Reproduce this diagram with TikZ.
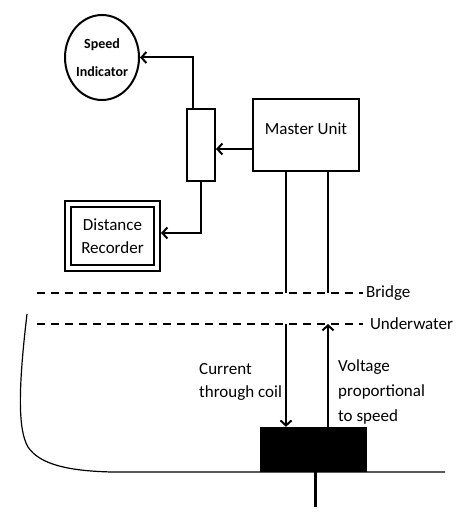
\documentclass[tikz,border=0pt]{standalone}
\usepackage{fontspec}
\setmainfont{Carlito}
\usetikzlibrary{shapes.geometric,arrows.meta}

\begin{document}
\begin{tikzpicture}[x=1pt,y=-1pt,
	txt/.style={font=\fontsize{17}{23}\selectfont,inner sep=0pt,align=left},
	box/.style={draw,line width=2pt,inner sep=0pt,font=\fontsize{17}{23}\selectfont,align=center},
	wire/.style={line width=2pt},
	arr/.style={wire,-{Straight Barb[length=5pt,width=11pt,line width=2pt]}},
	level/.style={line width=2pt,dash pattern=on 8pt off 6pt}]
	\useasboundingbox (0,0) rectangle (456,516);
	% blocks above the deck
	\node[box,ellipse,minimum width=74pt,minimum height=85pt,
		font=\bfseries\fontsize{14}{28}\selectfont] (ind) at (102,57.5) {Speed\\Indicator};
	\node[box,minimum width=28pt,minimum height=72pt] (sw) at (201,145) {};
	\node[box,minimum width=106pt,minimum height=72pt,
		label={[txt,yshift=6pt]center:Master Unit}] (mu) at (306,135) {};
	\node[box,double,double distance=4pt,outer sep=4pt,minimum width=89pt,
		minimum height=63.5pt] (dr) at (112.5,236) {Distance\\Recorder};
	\node[fill,minimum width=107pt,minimum height=45pt,inner sep=0pt] (coil) at (313.5,449.5) {};
	% levels
	\coordinate (bl) at (37,293);
	\coordinate (br) at (363,293);
	\coordinate (ul) at (37,324);
	\coordinate (ur) at (363,324);
	\draw[level] (bl) -- (br) node[txt,anchor=west,xshift=2pt] (bridge) {Bridge};
	\draw[level] (ul) -- (ur) node[txt,anchor=west,xshift=6pt] (under) {Underwater};
	% connectors
	\draw[arr] ([xshift=-8pt]sw.north) |- (ind.east);
	\draw[arr] ([yshift=-14pt]mu.west) coordinate (m) -- (m -| sw.east);
	\draw[arr] (sw.south) |- ([yshift=3pt]dr.east);
	\draw[wire] ([xshift=-20pt]mu.south) -- ([xshift=-20pt]mu.south |- bl);
	\draw[wire] ([xshift=22pt]mu.south) -- ([xshift=22pt]mu.south |- bl);
	\draw[arr] ([xshift=-20pt]mu.south |- ul) -- ([xshift=-20pt]mu.south |- coil.north);
	\draw[arr] ([xshift=22pt]mu.south |- coil.north) -- ([xshift=22pt]mu.south |- ul);
	\draw[line width=3pt] ([xshift=2pt]coil.south) -- ++(0,35);
	% hull and sea bed
	\draw[line width=1.2pt] (27,314) .. controls (18,390) and (18,430) .. (28,447)
		.. controls (40,465) and (70,471) .. (112,472) -- (445,472);
	\node[txt,anchor=west] (cur) at (199,381.5) {Current\\through coil};
	\node[txt,anchor=west,font=\fontsize{17}{25}\selectfont] (volt) at (338,392) {Voltage\\proportional\\to speed};
\end{tikzpicture}
\end{document}
